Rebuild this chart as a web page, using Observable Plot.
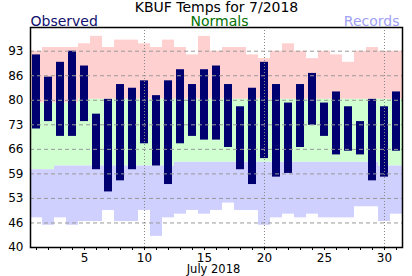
<!DOCTYPE html>
<html>
<head>
<meta charset="utf-8">
<script src="https://cdn.jsdelivr.net/npm/d3@7"></script>
<script src="https://cdn.jsdelivr.net/npm/@observablehq/plot@0.6"></script>
<style>
  body { margin: 0; background: white; }
</style>
</head>
<body>
<div id="chart"></div>
<script>
const title = "KBUF Temps for 7/2018";
const legendLabels = ["Observed", "Normals", "Records"];
const xLabel = "July 2018";
const days = d3.range(1, 32);
const obsHigh  = [92,86,90,93,89,76,80,84,83,85,81,85,88,84,88,89,84,78,83,90,84,79,84,87,79,82,78,74,80,78,82];
const obsLow   = [72,74,70,70,74,61,55,58,61,68,62,57,68,70,69,69,67,61,57,64,59,60,67,73,70,65,66,65,58,59,66];
const normHigh = [79,79,79,79,80,80,80,80,80,80,80,80,80,80,80,80,80,80,80,80,80,80,80,80,80,80,80,80,80,80,80];
const normLow  = [61,61,62,62,62,62,62,62,62,62,62,62,63,63,63,63,63,63,63,63,63,63,63,63,63,63,63,63,63,62,62];
const recHigh  = [93,94,94,94,95,97,94,96,96,95,94,96,94,92,97,93,94,94,92,91,93,95,93,91,93,92,90,93,94,93,93];
const recLow   = [48,46,48,46,47,47,50,47,47,50,43,48,49,50,49,50,52,50,50,46,48,49,48,49,48,48,48,51,51,47,49];
const yTickVals = d3.range(0, 9).map(k => 40 + k * 53 / 8);
const yTickLabels = ["40","46","53","59","66","73","80","86","93"];
const xTickLabelled = [5, 10, 15, 20, 25, 30];
const xGridDays = [10, 20, 30];

const data = days.map((day, i) => ({
  day, obsHigh: obsHigh[i], obsLow: obsLow[i], normHigh: normHigh[i],
  normLow: normLow[i], recHigh: recHigh[i], recLow: recLow[i]
}));
const x1 = d => d.day - 0.5, x2 = d => d.day + 0.5;

const chart = Plot.plot({
  width: 412, height: 276,
  marginLeft: 30, marginRight: 10, marginTop: 27, marginBottom: 29,
  style: { fontFamily: "DejaVu Sans", fontSize: "12px", background: "white", color: "black" },
  x: { domain: [0.5, 31.5] },
  y: { domain: [40, 99.4] },
  marks: [
    Plot.rect(data, { x1, x2, y1: "normHigh", y2: "recHigh", fill: "#ffd0d0" }),
    Plot.rect(data, { x1, x2, y1: "normLow", y2: "normHigh", fill: "#d0ffd0" }),
    Plot.rect(data, { x1, x2, y1: "recLow", y2: "normLow", fill: "#d0d0ff" }),
    Plot.rect(data, { x1, x2, y1: "obsLow", y2: "obsHigh", fill: "#000070", insetLeft: 2, insetRight: 2 }),
    Plot.ruleY(yTickVals.slice(1), { stroke: "#999", strokeDasharray: "4,3" }),
    Plot.ruleX(xGridDays, { stroke: "#888", strokeDasharray: "1,2" }),
    Plot.axisY(yTickVals, {
      tickSize: 0, tickPadding: 7, fontSize: 12, label: null,
      tickFormat: d => yTickLabels[Math.round((d - 40) / (53 / 8))]
    }),
    Plot.axisX(days, {
      tickSize: 3, tickPadding: 3, fontSize: 12, label: null,
      tickFormat: d => xTickLabelled.includes(d) ? String(d) : ""
    }),
    Plot.frame({ stroke: "black", strokeWidth: 1.5 }),
    Plot.text([title], { frameAnchor: "top", dy: -16, lineAnchor: "bottom", fontSize: 14, fill: "black" }),
    Plot.text([legendLabels[0]], { frameAnchor: "top-left", textAnchor: "start", dy: -2, lineAnchor: "bottom", fontSize: 14, fill: "#10106e" }),
    Plot.text([legendLabels[1]], { frameAnchor: "top", dx: 3, dy: -2, lineAnchor: "bottom", fontSize: 14, fill: "#007000" }),
    Plot.text([legendLabels[2]], { frameAnchor: "top-right", textAnchor: "end", dx: -3, dy: -2, lineAnchor: "bottom", fontSize: 14, fill: "#a0a0f5" }),
    Plot.text([xLabel], { frameAnchor: "bottom", dx: -3, dy: 25, lineAnchor: "bottom", fontSize: 11.5, fill: "black" })
  ]
});
document.getElementById("chart").appendChild(chart);
</script>
</body>
</html>
